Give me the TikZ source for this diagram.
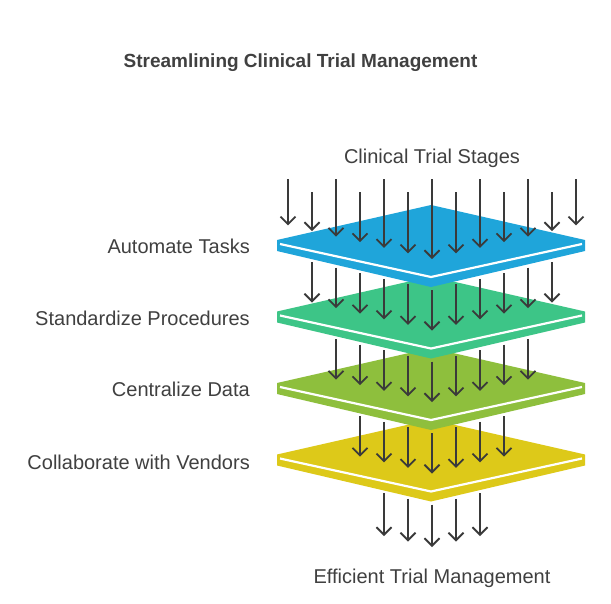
\documentclass[tikz,border=0pt]{standalone}
\usepackage{fontspec}
\setmainfont{Liberation Sans}
\usetikzlibrary{arrows.meta}
\definecolor{cblue}{HTML}{1FA5DA}
\definecolor{cgreen}{HTML}{3DC587}
\definecolor{colive}{HTML}{8EBF3D}
\definecolor{cyellow}{HTML}{DDC919}
\definecolor{arrowc}{HTML}{3A3A3A}
\definecolor{txt}{HTML}{404040}
\begin{document}
\begin{tikzpicture}[x=1pt,y=-1pt,
  flow/.style={draw=arrowc, line width=1.8pt, -{Straight Barb[length=7.5pt,width=15pt]}},
  lbl/.style={text=txt, font=\fontsize{20}{23}\selectfont, inner sep=0pt},
  ttl/.style={text=txt, font=\fontsize{19}{22}\selectfont\bfseries, inner sep=0pt},
  slabedge/.style={white, line width=2.2pt}]
\useasboundingbox[fill=white] (0,0) rectangle (611,603);

% bottom arrows (out of the yellow layer)
\foreach \k in {-2,...,2} {
  \pgfmathsetmacro{\sy}{277+71.5*3+13-5.6*abs(\k)}
  \pgfmathsetmacro{\ey}{547-5.5*abs(\k)}
  \pgfmathtruncatemacro{\idx}{\k+6}
  \coordinate (bs\idx) at (432+24*\k,\sy);
  \coordinate (be\idx) at (432+24*\k,\ey);
  \draw[flow] (bs\idx) -- (be\idx);
}

\foreach \i/\col in {3/cyellow,2/colive,1/cgreen,0/cblue} {
  \pgfmathsetmacro{\B}{277+71.5*\i}
  \fill[\col] (277,\B-37) -- (431,\B-72) -- (585,\B-37) -- (585,\B-26)
        -- (431,\B+10) -- (277,\B-26) -- cycle;
  \draw[slabedge] (280,\B-33) -- (431,\B) -- (582,\B-33);
  \pgfmathtruncatemacro{\n}{6-\i}
  \foreach \k in {-\n,...,\n} {
    \pgfmathtruncatemacro{\kpar}{mod(abs(\k),2)}
    \ifnum\i=0
      \ifnum\kpar=0 \def\sy{179}\else\def\sy{192}\fi
    \else
      \pgfmathsetmacro{\sy}{\B-71.5+13-5.6*abs(\k)}
    \fi
    \pgfmathsetmacro{\ey}{\B-18-5.6*abs(\k)}
    \pgfmathtruncatemacro{\idx}{\k+6}
    \coordinate (s\i x\idx) at (432+24*\k,\sy);
    \coordinate (e\i x\idx) at (432+24*\k,\ey);
    \draw[flow] (s\i x\idx) -- (e\i x\idx);
  }
}

\node[ttl, anchor=base] (title) at (300.5,67) {Streamlining Clinical Trial Management};
\node[lbl, anchor=base] (stages) at (432,163) {Clinical Trial Stages};
\node[lbl, anchor=base east] (l0) at (250,253) {Automate Tasks};
\node[lbl, anchor=base east] (l1) at (250,325) {Standardize Procedures};
\node[lbl, anchor=base east] (l2) at (250,396) {Centralize Data};
\node[lbl, anchor=base east] (l3) at (250,469) {Collaborate with Vendors};
\node[lbl, anchor=base] (result) at (432,583) {Efficient Trial Management};
\end{tikzpicture}
\end{document}
